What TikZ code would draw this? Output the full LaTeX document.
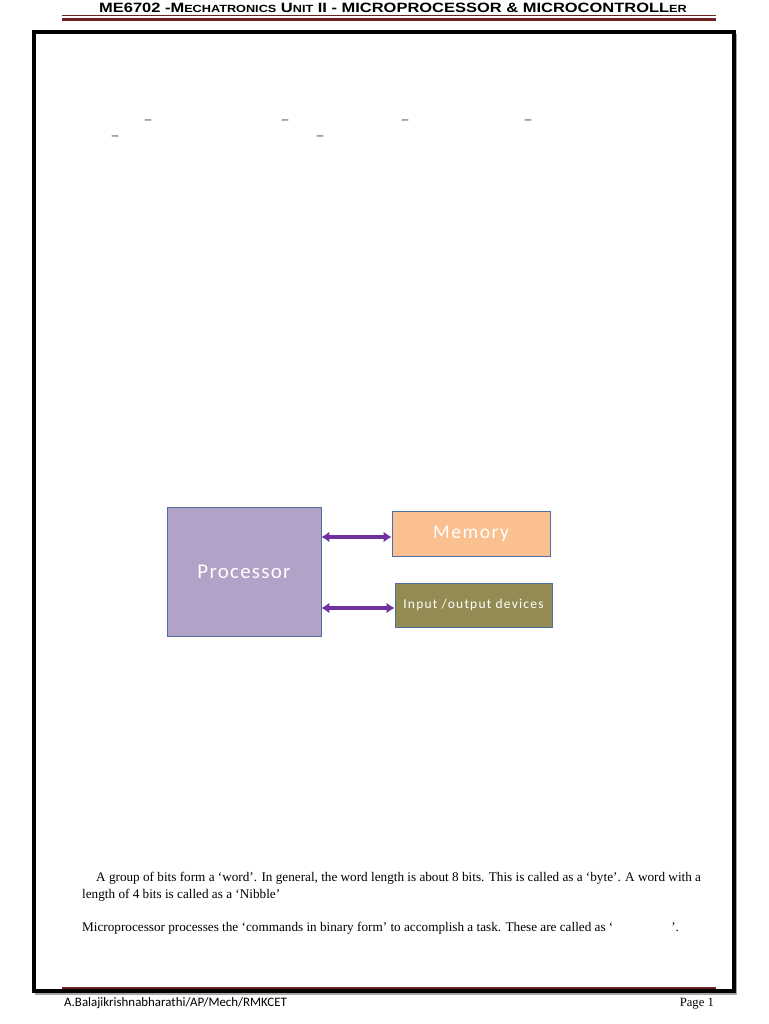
\documentclass[tikz,border=0pt]{standalone}
\usepackage{fontspec}
\setmainfont{Liberation Serif}
\newfontfamily\calibri{Carlito}
\newfontfamily\hdrfont{Liberation Sans}
\usepackage{xcolor}
\usetikzlibrary{arrows.meta, positioning}

\definecolor{maroon}{HTML}{6E2222}
\definecolor{procfill}{HTML}{B3A2C7}
\definecolor{memfill}{HTML}{FAC090}
\definecolor{iofill}{HTML}{948A54}
\definecolor{boxline}{HTML}{4F6F9F}
\definecolor{buspurple}{HTML}{7030A0}

% fake small caps for the running head
\newcommand{\hdrsc}[1]{{\fontsize{10.4}{10}\selectfont #1}}

\begin{document}
\begin{tikzpicture}[
  x=1pt, y=-1pt,
  box/.style={rectangle, draw=boxline, line width=0.8pt, text=white,
              inner sep=0pt, font=\calibri},
  arrow/.style={{Latex[length=8pt,width=11pt]}-{Latex[length=8pt,width=11pt]},
                line width=3.5pt, buspurple},
  bodytext/.style={anchor=base west, inner sep=0pt, font=\fontsize{13.2}{15}\selectfont},
  rule/.style={maroon}
]
  \useasboundingbox (0,0) rectangle (768,1024);

  % running head
  \node[font=\hdrfont\bfseries\fontsize{13.5}{13.5}\selectfont, anchor=base]
    (head) at (393,13) {\scalebox{1.22}[1]{ME6702 -M\hdrsc{ECHATRONICS} U\hdrsc{NIT} II - MICROPROCESSOR \& MICROCONTROLL\hdrsc{ER}}};
  \draw[rule, line width=0.8pt] (62,15.8) -- (716,15.8);
  \draw[rule, line width=2.6pt] (62,19.6) -- (716,19.6);

  % page frame
  \draw[gray!70, line width=1.5pt] (35,994) -- (736.5,994) -- (736.5,34);
  \draw[black, line width=4pt] (34,32) rectangle (733.5,991);

  % stray dashes
  \foreach \dx/\dy [count=\i] in {148/122, 285/122, 405/122, 528/122, 115/138, 320/138}
    \node[inner sep=0pt, font=\fontsize{13}{13}\selectfont] (d\i) at (\dx,\dy) {--};

  % block diagram
  \node[box, fill=procfill, minimum width=154pt, minimum height=129pt,
        font=\calibri\fontsize{21}{21}\selectfont\addfontfeature{LetterSpace=6}] (proc) at (244,571.5) {Processor};
  \node[box, fill=memfill, minimum width=158pt, minimum height=45pt,
        font=\calibri\fontsize{19.5}{19.5}\selectfont\addfontfeature{LetterSpace=8}] (mem) at (471,533.5) {Memory};
  \node[box, fill=iofill, minimum width=157pt, minimum height=44pt,
        font=\calibri\fontsize{13.5}{13.5}\selectfont\addfontfeature{LetterSpace=9}] (io) at (473.5,605) {Input /output devices};

  \draw[arrow] ([yshift=-3.5pt]proc.east |- mem.west) -- ([yshift=-3.5pt]mem.west);
  \draw[arrow] ([yshift=-3pt]proc.east |- io.west) -- ([yshift=-3pt]io.west);

  % body text
  \node[bodytext] (par1) at (96,881) {A group of bits form a `word'. In general, the word length is about 8 bits. This is called as a `byte'. A word with a};
  \node[bodytext] (par2) at (82,898) {length of 4 bits is called as a `Nibble'};
  \node[bodytext] (par3) at (82,931) {Microprocessor processes the `commands in binary form' to accomplish a task. These are called as `\hspace{58pt}'.};

  % footer
  \draw[rule, line width=2pt] (62,988) -- (716,988);
  \node[anchor=base west, inner sep=0pt, font=\calibri\fontsize{12.9}{13}\selectfont]
    (author) at (64,1006) {A.Balajikrishnabharathi/AP/Mech/RMKCET};
  \node[anchor=base east, inner sep=0pt, font=\fontsize{12.6}{13}\selectfont]
    (page) at (714,1006) {Page 1};
\end{tikzpicture}
\end{document}
